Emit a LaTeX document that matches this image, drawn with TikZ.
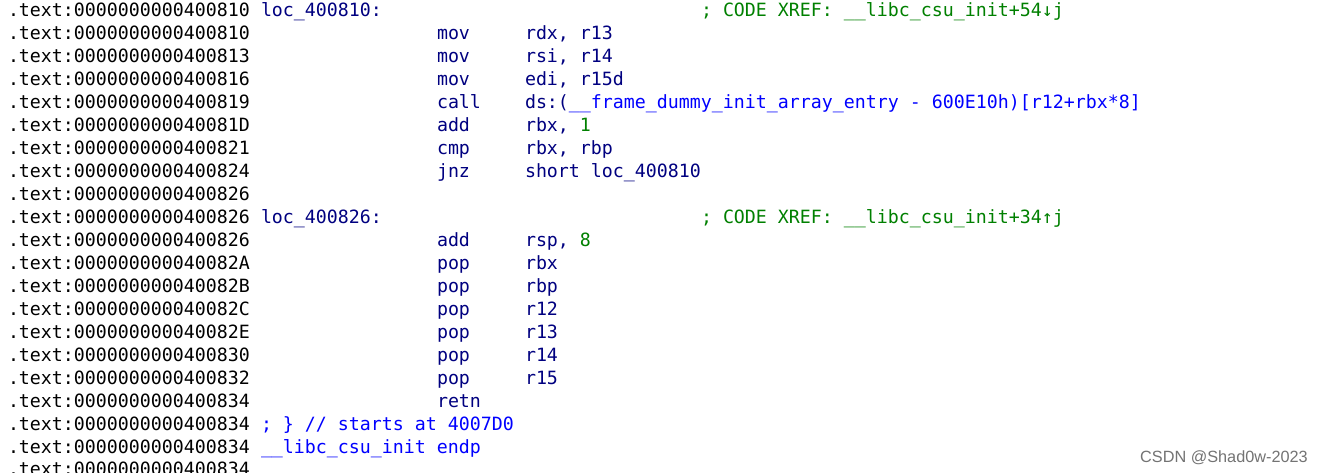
\documentclass[tikz,border=0pt]{standalone}
\usepackage{fontspec}
\setmonofont{DejaVu Sans Mono}
\setsansfont{Liberation Sans}
\definecolor{navy}{RGB}{0,0,128}
\definecolor{ida}{RGB}{0,0,255}
\definecolor{idagreen}{RGB}{0,128,0}
\newcommand\rowy[1]{11+22.95*(#1-1)+6}
\newcommand\colx[1]{8+11*#1}
\newcommand\adr[2]{\node[t,black] (a#1) at (8,{\rowy{#1}}) {.text:#2};}
\newcommand\fld[4]{\node[t,#3] (#1) at ({\colx{#2}},{\rowy{#4}})}
\begin{document}
\begin{tikzpicture}[x=0.75pt,y=-0.75pt,
  t/.style={anchor=base west,inner sep=0pt,outer sep=0pt,font=\fontsize{13.7pt}{16pt}\ttfamily}]
\clip (0,0) rectangle (1324,473);
\fill[white] (0,0) rectangle (1324,473);
\adr{1}{0000000000400810}
\fld{l1}{23}{navy}{1} {loc\_400810:};
\fld{c1}{63}{idagreen}{1} {; CODE XREF: \_\_libc\_csu\_init+54↓j};
\adr{2}{0000000000400810}
\fld{m2}{39}{navy}{2} {mov};
\fld{o2}{47}{navy}{2} {rdx, r13};
\adr{3}{0000000000400813}
\fld{m3}{39}{navy}{3} {mov};
\fld{o3}{47}{navy}{3} {rsi, r14};
\adr{4}{0000000000400816}
\fld{m4}{39}{navy}{4} {mov};
\fld{o4}{47}{navy}{4} {edi, r15d};
\adr{5}{0000000000400819}
\fld{m5}{39}{navy}{5} {call};
\fld{o5}{47}{navy}{5} {ds:(\textcolor{ida}{\_\_frame\_dummy\_init\_array\_entry - 600E10h)[r12+rbx*8]}};
\adr{6}{000000000040081D}
\fld{m6}{39}{navy}{6} {add};
\fld{o6}{47}{navy}{6} {rbx, \textcolor{idagreen}{1}};
\adr{7}{0000000000400821}
\fld{m7}{39}{navy}{7} {cmp};
\fld{o7}{47}{navy}{7} {rbx, rbp};
\adr{8}{0000000000400824}
\fld{m8}{39}{navy}{8} {jnz};
\fld{o8}{47}{navy}{8} {short loc\_400810};
\adr{9}{0000000000400826}
\adr{10}{0000000000400826}
\fld{l10}{23}{navy}{10} {loc\_400826:};
\fld{c10}{63}{idagreen}{10} {; CODE XREF: \_\_libc\_csu\_init+34↑j};
\adr{11}{0000000000400826}
\fld{m11}{39}{navy}{11} {add};
\fld{o11}{47}{navy}{11} {rsp, \textcolor{idagreen}{8}};
\adr{12}{000000000040082A}
\fld{m12}{39}{navy}{12} {pop};
\fld{o12}{47}{navy}{12} {rbx};
\adr{13}{000000000040082B}
\fld{m13}{39}{navy}{13} {pop};
\fld{o13}{47}{navy}{13} {rbp};
\adr{14}{000000000040082C}
\fld{m14}{39}{navy}{14} {pop};
\fld{o14}{47}{navy}{14} {r12};
\adr{15}{000000000040082E}
\fld{m15}{39}{navy}{15} {pop};
\fld{o15}{47}{navy}{15} {r13};
\adr{16}{0000000000400830}
\fld{m16}{39}{navy}{16} {pop};
\fld{o16}{47}{navy}{16} {r14};
\adr{17}{0000000000400832}
\fld{m17}{39}{navy}{17} {pop};
\fld{o17}{47}{navy}{17} {r15};
\adr{18}{0000000000400834}
\fld{m18}{39}{navy}{18} {retn};
\adr{19}{0000000000400834}
\fld{l19}{23}{ida}{19} {; \} // starts at 4007D0};
\adr{20}{0000000000400834}
\fld{l20}{23}{ida}{20} {\_\_libc\_csu\_init endp};
\adr{21}{0000000000400834}
\node[anchor=base east,inner sep=0pt,font=\fontsize{12.2pt}{14pt}\sffamily,text=black!55] (wm) at (1308,463) {CSDN @Shad0w-2023};
\end{tikzpicture}
\end{document}
